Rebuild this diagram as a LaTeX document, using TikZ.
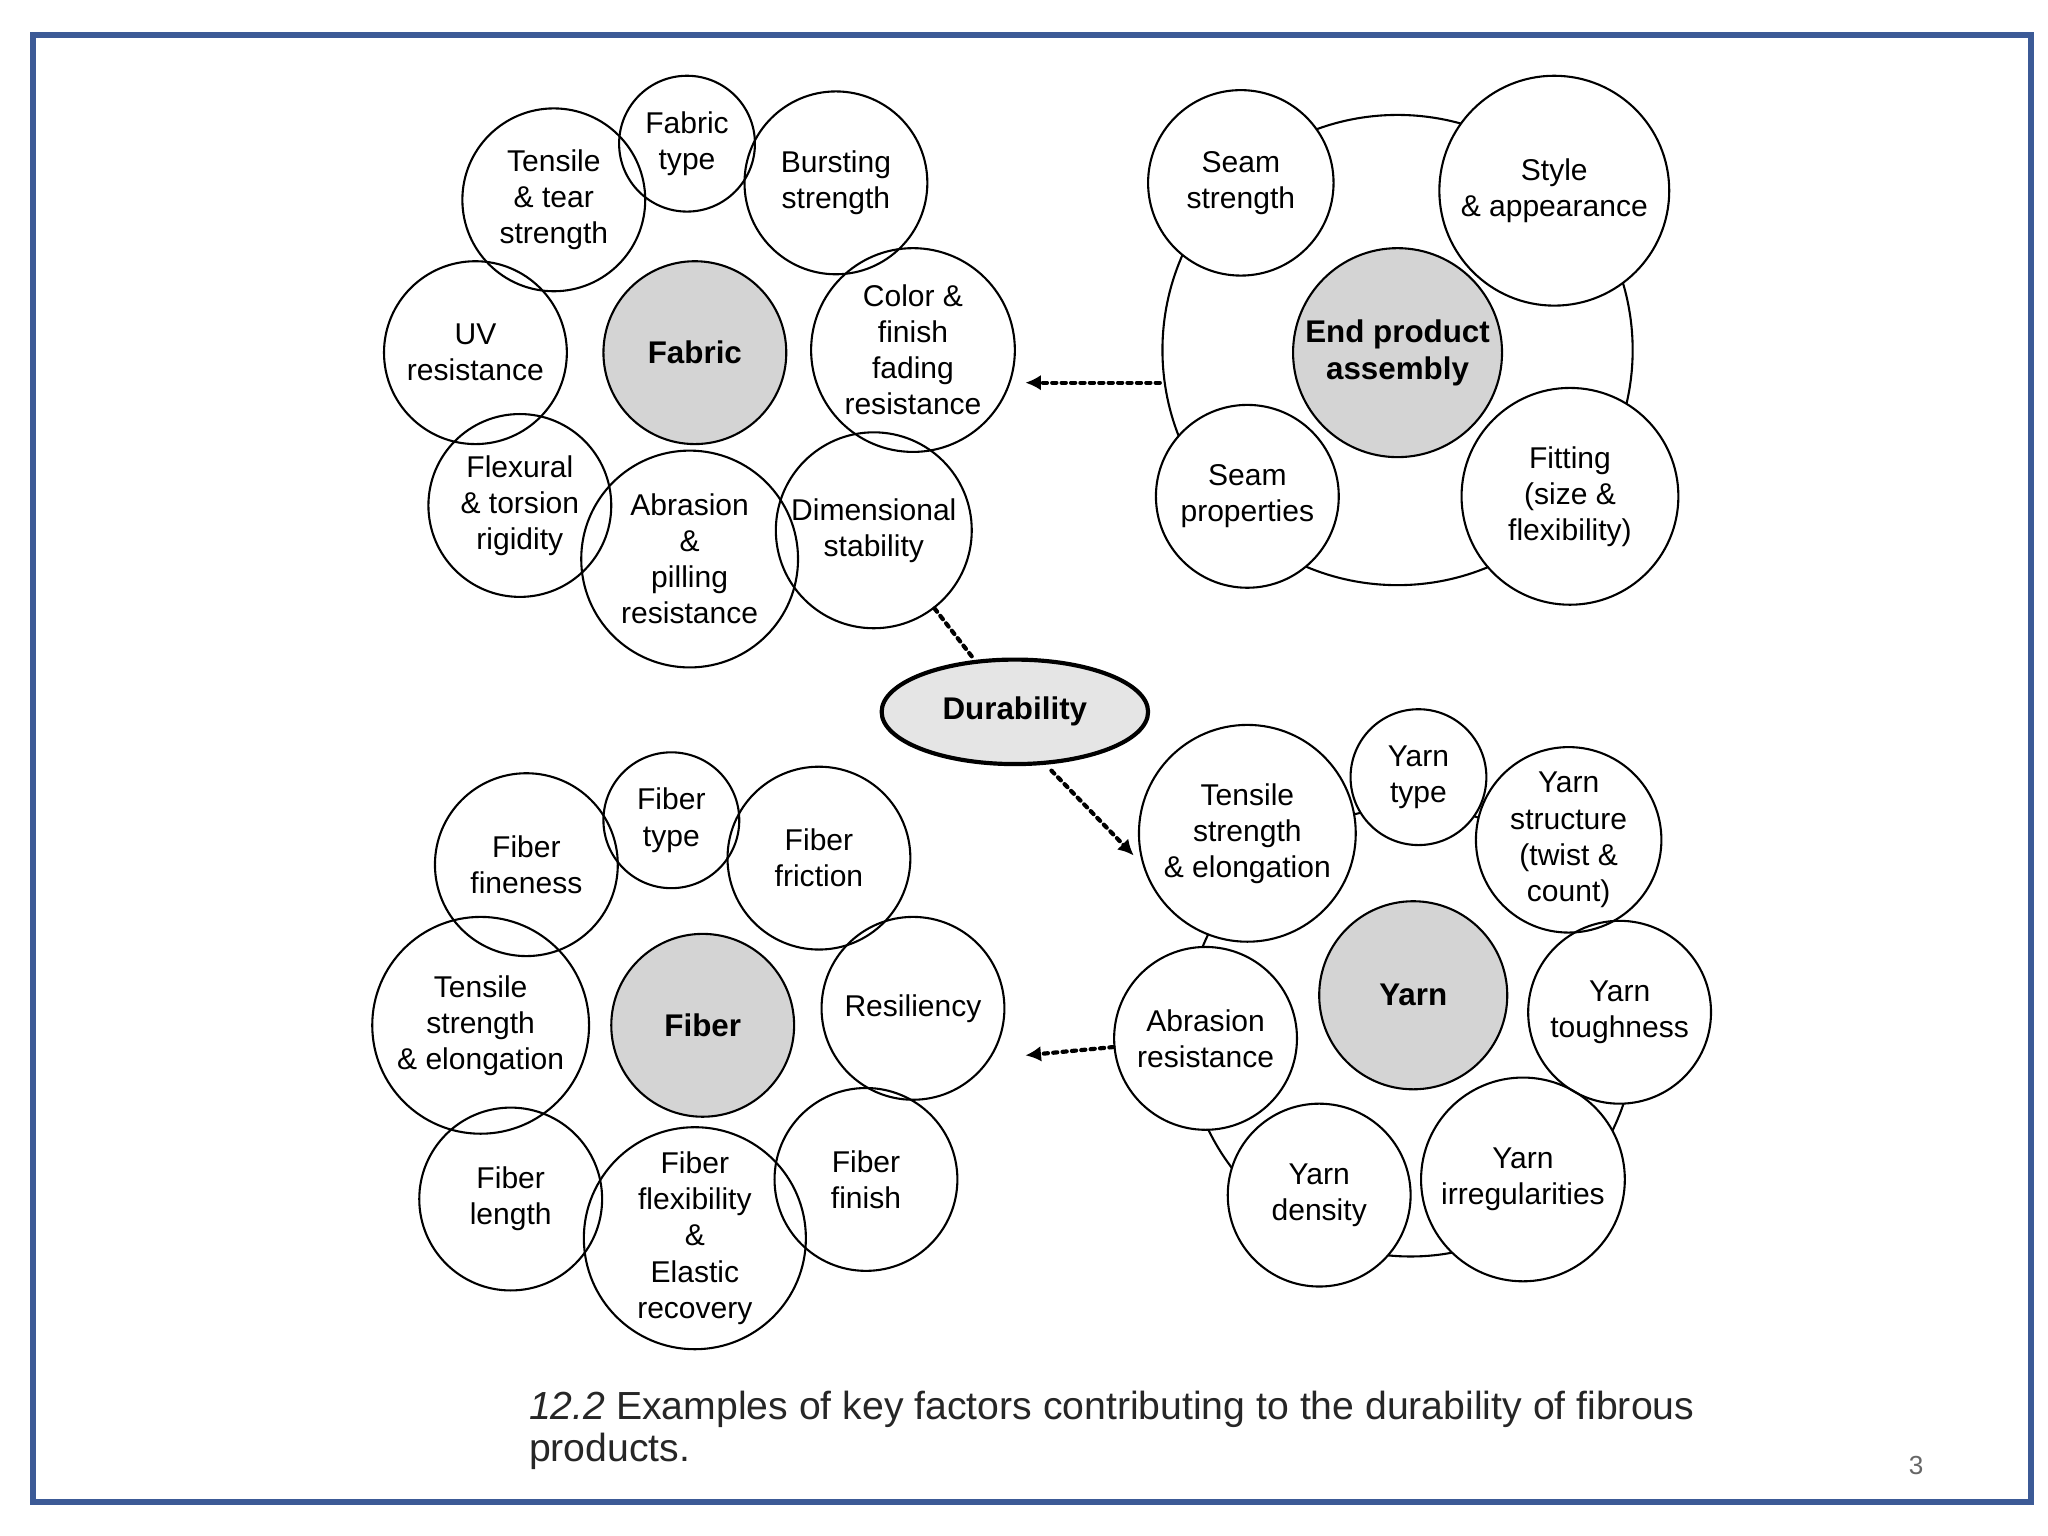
\documentclass[tikz,border=0pt]{standalone}
\usepackage{fontspec}
\setmainfont{Liberation Sans}
\usetikzlibrary{shapes.geometric,arrows.meta}
\begin{document}
\begin{tikzpicture}[x=0.5pt,y=-0.5pt,
  fac/.style={circle,draw,thick,inner sep=0pt,align=center,font=\fontsize{11.5}{13.8}\selectfont},
  core/.style={fac,fill=black!17,font=\fontsize{12}{14}\selectfont\bfseries},
  big/.style={draw,thick},
  dots/.style={line width=1.6pt,dotted,line cap=round},
  arr/.style={dots,-{Latex[length=6pt,width=6pt]}}]
\useasboundingbox (0,0) rectangle (1568,1176);
\fill[white] (0,0) rectangle (1568,1176);
\draw[line width=2.2pt,color={rgb,255:red,60;green,90;blue,150}] (25,27) rectangle (1555,1150);
% background circles
\draw[big] (1070,268) circle (180);
\draw[big] (1080,790) circle (172);
\foreach \x/\y/\r in {950/140/71,1190/146/88,955/380/70,1202/380/83,1070/270/80,
  955/638/83,1086/595/52,1201/643/71,1240/775/70,923/795/70,1010/915/70,1166/903/78,1082/762/72}
  \fill[white] (\x,\y) circle (\r);
% Fabric
\node[core,minimum size=70pt] (fabric) at (532,270) {Fabric};
\node[fac,minimum size=52pt] (ftype) at (526,110) {Fabric\\type};
\node[fac,minimum size=70pt] (tens) at (424,153) {Tensile\\\& tear\\strength};
\node[fac,minimum size=70pt] (burst) at (640,140) {Bursting\\strength};
\node[fac,minimum size=70pt] (uv) at (364,270) {UV\\resistance};
\node[fac,minimum size=78pt] (color) at (699,268) {Color \&\\finish\\fading\\resistance};
\node[fac,minimum size=70pt] (flex) at (398,387) {Flexural\\\& torsion\\rigidity};
\node[fac,minimum size=83pt] (abr) at (528,428) {Abrasion\\\&\\pilling\\resistance};
\node[fac,minimum size=75pt] (dim) at (669,406) {Dimensional\\stability};
% End product
\node[core,minimum size=80pt] (end) at (1070,270) {End product\\assembly};
\node[fac,minimum size=71pt] (seams) at (950,140) {Seam\\strength};
\node[fac,minimum size=88pt] (style) at (1190,146) {Style\\\& appearance};
\node[fac,minimum size=70pt] (seamp) at (955,380) {Seam\\properties};
\node[fac,minimum size=83pt] (fit) at (1202,380) {Fitting\\(size \&\\flexibility)};
\coordinate (endbig) at (888,293);
% Durability
\node[ellipse,draw,line width=1.6pt,fill=black!10,minimum width=102pt,minimum height=40pt,inner sep=0pt,
  font=\fontsize{12}{14}\selectfont\bfseries] (dur) at (777,545) {Durability};
% Fiber
\node[core,minimum size=70pt] (fiber) at (538,785) {Fiber};
\node[fac,minimum size=52pt] (fitype) at (514,628) {Fiber\\type};
\node[fac,minimum size=70pt] (fine) at (403,662) {Fiber\\fineness};
\node[fac,minimum size=70pt] (fric) at (627,657) {Fiber\\friction};
\node[fac,minimum size=83pt] (ftens) at (368,785) {Tensile\\strength\\\& elongation};
\node[fac,minimum size=70pt] (resil) at (699,772) {Resiliency};
\node[fac,minimum size=70pt] (flen) at (391,918) {Fiber\\length};
\node[fac,minimum size=85pt] (fflex) at (532,948) {Fiber\\flexibility\\\&\\Elastic\\recovery};
\node[fac,minimum size=70pt] (ffin) at (663,903) {Fiber\\finish};
% Yarn
\node[core,minimum size=72pt] (yarn) at (1082,762) {Yarn};
\node[fac,minimum size=83pt] (ytens) at (955,638) {Tensile\\strength\\\& elongation};
\node[fac,minimum size=52pt] (ytype) at (1086,595) {Yarn\\type};
\node[fac,minimum size=71pt] (ystruct) at (1201,643) {Yarn\\structure\\(twist \&\\count)};
\node[fac,minimum size=70pt] (ytough) at (1240,775) {Yarn\\toughness};
\node[fac,minimum size=70pt] (yabr) at (923,795) {Abrasion\\resistance};
\node[fac,minimum size=70pt] (ydens) at (1010,915) {Yarn\\density};
\node[fac,minimum size=78pt] (yirr) at (1166,903) {Yarn\\irregularities};
% connectors
\coordinate (fabin) at (785,293);
\coordinate (fibin) at (785,808);
\coordinate (durout) at (805,590);
\coordinate (yin) at (868,655);
\draw[arr] (endbig) -- (fabin);
\draw[dots] (dim) -- (dur);
\draw[arr] (durout) -- (yin);
\draw[arr] (yabr) -- (fibin);
% caption
\node[anchor=north west,align=left,font=\fontsize{15}{16}\selectfont,color=black!85] (cap) at (398,1058)
  {\textit{12.2} Examples of key factors contributing to the durability of fibrous\\products.};
\node[font=\fontsize{10}{12}\selectfont,color=black!60] (pg) at (1467,1122) {3};
\end{tikzpicture}
\end{document}
